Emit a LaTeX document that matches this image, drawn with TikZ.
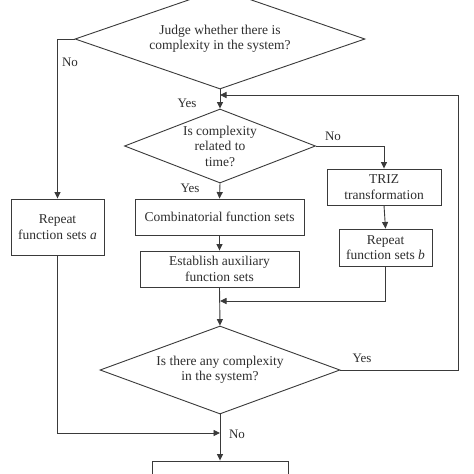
\documentclass[tikz,border=0pt]{standalone}
\usepackage{fontspec}
\setmainfont{Liberation Serif}
\usetikzlibrary{shapes.geometric,arrows.meta}
\definecolor{ln}{HTML}{3A3A3A}
\definecolor{tx}{HTML}{2E2E2E}
\tikzset{
  box/.style={draw=ln, line width=0.9pt, rectangle, inner sep=0pt, align=center, text=tx, font=\fontsize{13.5}{15.5}\selectfont},
  dia/.style={draw=ln, line width=0.9pt, diamond, inner sep=0pt, align=center, text=tx, font=\fontsize{13.5}{15.5}\selectfont},
  lbl/.style={text=tx, font=\fontsize{13}{15}\selectfont, inner sep=0pt},
  wire/.style={draw=ln, line width=0.9pt},
  arr/.style={wire, -{Triangle[length=6.5pt,width=6pt]}}
}
\begin{document}
\begin{tikzpicture}[x=1pt,y=-1pt]
\useasboundingbox (0,0) rectangle (474,474);
\clip (0,0) rectangle (474,474);
\fill[white] (0,0) rectangle (474,474);
% nodes
\node[dia, shape aspect=2.9, minimum width=290pt, minimum height=100pt] (d1) at (220,39) {Judge whether there is\\complexity in the system?};
\node[dia, shape aspect=2.58, minimum width=191pt, minimum height=74pt] (d2) at (220,146) {Is complexity\\related to\\time?};
\node[box, minimum width=114pt, minimum height=36pt] (triz) at (384,187) {TRIZ\\transformation};
\node[box, minimum width=93pt, minimum height=37pt] (rb) at (385.5,247.5) {Repeat\\function sets \textit{b}};
\node[box, minimum width=169pt, minimum height=36pt] (comb) at (219.5,217) {Combinatorial function sets};
\node[box, minimum width=159pt, minimum height=36pt] (est) at (219.5,269) {Establish auxiliary\\function sets};
\node[box, minimum width=93pt, minimum height=56pt] (ra) at (57.5,227) {Repeat\\function sets \textit{a}};
\node[dia, shape aspect=2.73, minimum width=240pt, minimum height=88pt] (d3) at (220,370) {Is there any complexity\\in the system?};
\node[box, minimum width=136pt, minimum height=36pt] (fin) at (220,479) {};
% junctions
\coordinate (j1) at (220,95);
\coordinate (j2) at (220,301);
\coordinate (j3) at (220,433);
\coordinate (rt) at (458,370);
% connectors
\draw[arr] (d1.west) -| (ra.north);
\draw[arr] (d1.south) -- (d2.north);
\draw[arr] (d2.east) -| (triz.north);
\draw[arr] (d2.south) -- (comb.north);
\draw[arr] (comb.south) -- (est.north);
\draw[arr] (triz.south) -- (rb.north);
\draw[arr] (rb.south) |- (j2);
\draw[arr] (est.south) -- (d3.north);
\draw[arr] (d3.east) -- (rt) |- (j1);
\draw[arr] (ra.south) |- (j3);
\draw[arr] (d3.south) -- (fin.north);
% labels
\node[lbl] at (70,62) {No};
\node[lbl] at (187,103) {Yes};
\node[lbl] at (333,136) {No};
\node[lbl] at (190,188) {Yes};
\node[lbl] at (362,358) {Yes};
\node[lbl] at (237,434) {No};
\end{tikzpicture}
\end{document}
